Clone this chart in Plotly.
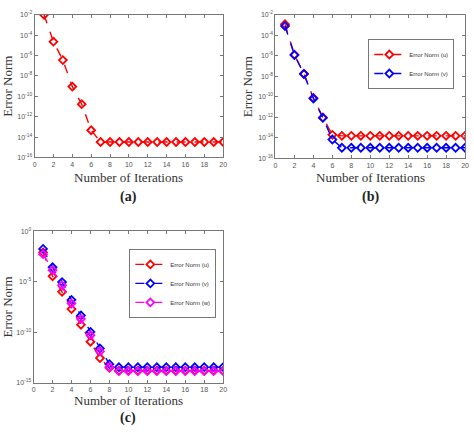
import plotly.graph_objects as go

# iterations shared by all panels
iters = list(range(1, 21))

# (a) single error norm
err_a = [1e-2, 2.3e-5, 3.6e-7, 9e-10, 1.7e-11, 4.7e-14] + [3.3e-15] * 14

# (b) error norms for u and v
err_b_u = [1.2e-3, 1.3e-6, 1.8e-8, 8e-11, 1e-12, 2e-14] + [1.6e-14] * 14
err_b_v = [8e-4, 1.2e-6, 1.7e-8, 7e-11, 9e-13, 7e-15] + [1.1e-15] * 14

# (c) error norms for u, v and w
err_c_u = [8e-3, 3.5e-5, 1e-6, 2e-8, 5.6e-10, 1.15e-11, 2.8e-13, 3e-14] + [1.6e-14] * 12
err_c_v = [1.8e-2, 2.7e-4, 9.3e-6, 1.6e-7, 4.6e-9, 1.07e-10, 2.5e-12, 7e-14] + [3.5e-14] * 12
err_c_w = [5.4e-3, 1.4e-4, 4.4e-6, 7.2e-8, 2.1e-9, 5e-11, 1.26e-12, 3.6e-14] + [1.4e-14] * 12

ticks_ab = [-16, -14, -12, -10, -8, -6, -4, -2]
ticks_c = [-15, -10, -5, 0]

RED, BLUE, MAG = "#ff0000", "#0000ff", "#ff00ff"
W, H = 474, 432
SERIF = '"Liberation Serif", "DejaVu Serif", serif'


def dom_x(a, b):
    return [a / W, b / W]


def dom_y(top, bottom):
    return [1 - bottom / H, 1 - top / H]


def line(x, y, name, color, xa, ya, legend=None, show=True):
    return go.Scatter(
        x=x, y=y, name=name, mode="lines+markers",
        line=dict(color=color, width=1.4, dash="dash"),
        marker=dict(symbol="diamond-open", size=6, color=color, line=dict(width=1.8, color=color)),
        xaxis=xa, yaxis=ya, legend=legend, showlegend=show,
    )


fig = go.Figure()
fig.add_trace(line(iters, err_a, "Error Norm", RED, "x", "y", show=False))
fig.add_trace(line(iters, err_b_u, "Error Norm (u)", RED, "x2", "y2", legend="legend2"))
fig.add_trace(line(iters, err_b_v, "Error Norm (v)", BLUE, "x2", "y2", legend="legend2"))
fig.add_trace(line(iters, err_c_u, "Error Norm (u)", RED, "x3", "y3", legend="legend3"))
fig.add_trace(line(iters, err_c_v, "Error Norm (v)", BLUE, "x3", "y3", legend="legend3"))
fig.add_trace(line(iters, err_c_w, "Error Norm (w)", MAG, "x3", "y3", legend="legend3"))

axis_font = dict(family=SERIF, size=13, color="#333")
tick_font = dict(family="Liberation Sans", size=7, color="#555")

common_x = dict(
    range=[0, 20], tick0=0, dtick=2, ticks="inside", ticklen=3, mirror="ticks",
    showline=True, linecolor="#777", linewidth=1, tickcolor="#777", showgrid=False,
    zeroline=False, tickfont=tick_font, ticklabeloverflow="allow",
)


def y_axis(ticks):
    return dict(
        type="log", range=[ticks[0], ticks[-1]],
        tickvals=[10.0 ** t for t in ticks],
        ticktext=["10<sup>%d</sup>" % t for t in ticks],
        ticks="inside", ticklen=3, mirror="ticks", showline=True, linecolor="#777",
        linewidth=1, tickcolor="#777", showgrid=False, zeroline=False, tickfont=tick_font,
        title=dict(text="Error Norm", font=axis_font, standoff=2),
    )


legend_style = dict(
    font=dict(family="Liberation Sans", size=6, color="#333"),
    bgcolor="white", bordercolor="#777", borderwidth=1,
    itemwidth=30, tracegroupgap=0, xanchor="left", yanchor="middle",
)

# x-axis titles and panel captions, placed in paper coordinates
captions = [
    ("Number of Iterations", 128, 176, axis_font),
    ("Number of Iterations", 373, 176, axis_font),
    ("Number of Iterations", 128, 403, axis_font),
    ("<b>(a)</b>", 128, 196, dict(family=SERIF, size=14, color="#222")),
    ("<b>(b)</b>", 373, 196, dict(family=SERIF, size=14, color="#222")),
    ("<b>(c)</b>", 128, 421, dict(family=SERIF, size=14, color="#222")),
]

fig.update_layout(
    width=W, height=H, margin=dict(l=0, r=0, t=0, b=0),
    paper_bgcolor="white", plot_bgcolor="white",
    xaxis=dict(common_x, domain=dom_x(33, 224), anchor="y"),
    yaxis=dict(y_axis(ticks_ab), domain=dom_y(11, 156), anchor="x"),
    xaxis2=dict(common_x, domain=dom_x(277, 469), anchor="y2"),
    yaxis2=dict(y_axis(ticks_ab), domain=dom_y(11, 157), anchor="x2"),
    xaxis3=dict(common_x, domain=dom_x(32, 224), anchor="y3"),
    yaxis3=dict(y_axis(ticks_c), domain=dom_y(231, 385), anchor="x3"),
    legend2=dict(legend_style, x=371 / W, y=1 - 61 / H),
    legend3=dict(legend_style, x=129 / W, y=1 - 284 / H),
    annotations=[
        dict(text=t, x=px / W, y=1 - py / H, font=f, xref="paper", yref="paper",
             showarrow=False, xanchor="center", yanchor="middle")
        for t, px, py, f in captions
    ],
)

# drop the browser's default page margin so the figure sits at the top-left corner
fig.write_html("out.html", config={"displayModeBar": False},
               post_script="document.body.style.margin='0px';")
